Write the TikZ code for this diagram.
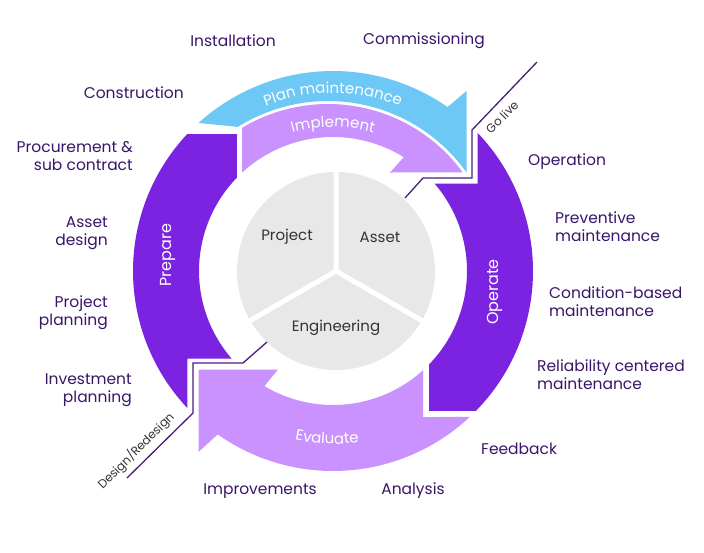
\documentclass[tikz,border=0pt]{standalone}
\usepackage{fontspec}
\setmainfont{Poppins}
\usetikzlibrary{decorations.text}
\definecolor{dpurple}{HTML}{7B23E0}
\definecolor{lpurple}{HTML}{CA92FF}
\definecolor{lblue}{HTML}{6DC8F5}
\definecolor{piegrey}{HTML}{E8E8E8}
\definecolor{labelc}{HTML}{3A1568}
\definecolor{linec}{HTML}{4A1C7C}
\definecolor{piet}{HTML}{333333}
\newcommand\bandfont{\fontsize{15}{18}\selectfont}
\tikzset{
  lab/.style={font=\fontsize{15.5}{18}\selectfont, text=labelc, inner sep=0pt},
  labL/.style={lab, anchor=east, align=right},
  labR/.style={lab, anchor=west, align=left},
  labC/.style={lab, anchor=center, align=center},
  band/.style={font=\fontsize{16}{19}\selectfont, text=white, inner sep=0pt},
  pietext/.style={font=\fontsize{15}{18}\selectfont, text=piet, inner sep=0pt},
  sepline/.style={draw=linec, line width=1.3pt},
  seplab/.style={font=\fontsize{12}{14}\selectfont, text=piet, inner sep=0pt, rotate=45},
}
\begin{document}
\begin{tikzpicture}[x=1pt,y=-1pt]
\useasboundingbox (0,0) rectangle (704,552);
\fill[white] (0,0) rectangle (704,552);

% Prepare
\fill[dpurple] (237,134) -- (187.3,134)
  -- plot[domain=0:1,samples=60,variable=\t] ({333+200*cos(223.24-86.56*\t)},{271+200*sin(223.24-86.56*\t)})
  -- (187.5,358.5) -- (231.5,358.5)
  -- plot[domain=0:1,samples=60,variable=\t] ({333+134*cos(139.24+85*\t)},{271+134*sin(139.24+85*\t)})
  -- cycle;
% Operate
\fill[dpurple] (477.5,183.5) -- (477.5,132.7)
  -- plot[domain=0:1,samples=60,variable=\t] ({333+200*cos(-43.74+88.17*\t)},{271+200*sin(-43.74+88.17*\t)})
  -- (429,411) -- (429,364.5)
  -- plot[domain=0:1,samples=60,variable=\t] ({333+134*cos(44.24-85*\t)},{271+134*sin(44.24-85*\t)})
  -- cycle;
% Evaluate
\fill[lpurple] (423,370.3) -- (423,417)
  -- plot[domain=0:1,samples=60,variable=\t] ({333+200*cos(46.88+78.4*\t)},{271+200*sin(46.88+78.4*\t)})
  -- (198.5,452) -- (198.5,369.5) -- (278,369.5)
  -- plot[domain=0:1,samples=60,variable=\t] ({333+134*cos(120.8-72.99*\t)},{271+134*sin(120.8-72.99*\t)})
  -- cycle;
% Plan maintenance
\fill[lblue] (198.5,123)
  -- plot[domain=0:1,samples=60,variable=\t] ({333+200*cos(-132.26+77.26*\t)},{271+200*sin(-132.26+77.26*\t)})
  -- (466.5,91) -- (466.5,172.4)
  -- plot[domain=0:1,samples=60,variable=\t] ({328+170*cos(-35.44-86.66*\t)},{271+170*sin(-35.44-86.66*\t)})
  -- cycle;
% Implement
\fill[lpurple] (242,172.64) -- (242,127.85)
  -- plot[domain=0:1,samples=60,variable=\t] ({328+167*cos(-121.0+84.86*\t)},{271+167*sin(-121.0+84.86*\t)})
  -- (390,172.5)
  -- plot[domain=0:1,samples=60,variable=\t] ({333+134*cos(-58.13-74.65*\t)},{271+134*sin(-58.13-74.65*\t)})
  -- cycle;

% centre pie
\coordinate (pc) at (336,271);
\fill[piegrey] (pc) circle[radius=99pt];
\draw[white, line width=5pt] (pc) -- ++(-90:105) (pc) -- ++(30:105) (pc) -- ++(150:105);
\node[pietext] (project) at (287,237) {Project};
\node[pietext] (asset) at (380,237) {Asset};
\node[pietext] (engineering) at (336,328) {Engineering};

% separator lines
\coordinate (g1) at (537,62); \coordinate (g2) at (472,130); \coordinate (g3) at (472,178);
\coordinate (g4) at (423,178); \coordinate (g5) at (405,198);
\draw[sepline] (g1) -- (g2) -- (g3) -- (g4) -- (g5);
\coordinate (d1) at (127,478); \coordinate (d2) at (193,413); \coordinate (d3) at (193,363);
\coordinate (d4) at (243,363); \coordinate (d5) at (267,342);
\draw[sepline] (d1) -- (d2) -- (d3) -- (d4) -- (d5);
\node[seplab] (golive) at (502,117) {Go live};
\node[seplab] (design) at (136,451) {Design/Redesign};

% band texts
\path[decorate, decoration={text along path, text align=center, text={|\color{white}\bandfont|Plan maintenance}}]
  plot[domain=0:1,samples=80,variable=\t] ({333+178*cos(-140+100*\t)},{271+178*sin(-140+100*\t)});
\path[decorate, decoration={text along path, text align=center, text={|\color{white}\bandfont|Implement}}]
  plot[domain=0:1,samples=80,variable=\t] ({333+144*cos(-140+100*\t)},{271+144*sin(-140+100*\t)});
\path[decorate, decoration={text along path, text align=center, text={|\color{white}\bandfont|Evaluate}}]
  plot[domain=0:1,samples=80,variable=\t] ({333+173*cos(117-50*\t)},{271+173*sin(117-50*\t)});
\node[band, rotate=90] (prepare) at (168,255) {Prepare};
\node[band, rotate=90] (operate) at (495,292) {Operate};

% outer labels
\node[labC] (inst) at (233,41) {Installation};
\node[labC] (comm) at (424,41) {Commissioning};
\node[labL] (cons) at (184,93) {Construction};
\node[labL] (proc) at (133,156) {Procurement \&\\sub contract};
\node[labL] (ades) at (108,233) {Asset\\design};
\node[labL] (pplan) at (108,313) {Project\\planning};
\node[labL] (iplan) at (132,390) {Investment\\planning};
\node[labR] (oper) at (528,162) {Operation};
\node[labR] (prev) at (555,227) {Preventive\\maintenance};
\node[labR] (cond) at (549,302) {Condition-based\\maintenance};
\node[labR] (rel) at (537,375) {Reliability centered\\maintenance};
\node[labR] (feed) at (481,449) {Feedback};
\node[labC] (impr) at (260,491) {Improvements};
\node[labC] (anal) at (413,491) {Analysis};
\end{tikzpicture}
\end{document}
